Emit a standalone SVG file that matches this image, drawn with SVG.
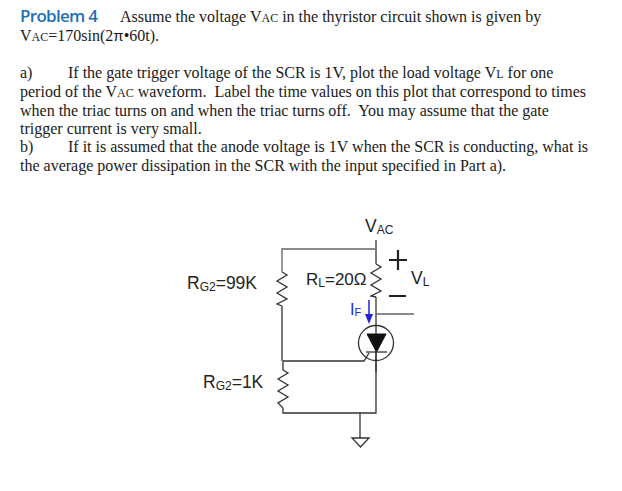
<svg xmlns="http://www.w3.org/2000/svg" width="622" height="491" viewBox="0 0 622 491">
<style>
.t{font-family:"Liberation Serif",serif;font-size:16px;fill:#1a1a1a;white-space:pre}
.s{font-size:12px}
.a{font-family:"Liberation Sans",sans-serif;font-size:17.500px;fill:#222}
.as{font-size:12px}
.w{fill:none;stroke:#333;stroke-width:1.300}
.g{fill:none;stroke:#666;stroke-width:1.300}
</style>
<rect width="622" height="491" fill="#fff"/>
<g id="text">
<text x="20" y="22" style="font-family:'Open Sans','Liberation Sans',sans-serif;font-size:17px;font-weight:600;fill:#1f6fb5;letter-spacing:-.7px">Problem 4</text>
<text class="t" x="120" y="22">Assume the voltage V<tspan class="s">AC</tspan> in the thyristor circuit shown is given by</text>
<text class="t" x="20" y="41">V<tspan class="s">AC</tspan>=170sin(2<tspan font-family="Liberation Sans" font-size="15">π</tspan>•60t).</text>
<text class="t" x="20" y="78">a)</text>
<text class="t" x="68" y="78">If the gate trigger voltage of the SCR is 1V, plot the load voltage V<tspan class="s">L</tspan> for one</text>
<text class="t" x="20" y="97">period of the V<tspan class="s">AC</tspan> waveform.  Label the time values on this plot that correspond to times</text>
<text class="t" x="20" y="116">when the triac turns on and when the triac turns off.  You may assume that the gate</text>
<text class="t" x="20" y="134">trigger current is very small.</text>
<text class="t" x="20" y="152">b)</text>
<text class="t" x="68" y="152">If it is assumed that the anode voltage is 1V when the SCR is conducting, what is</text>
<text class="t" x="20" y="171">the average power dissipation in the SCR with the input specified in Part a).</text>
</g>
<g id="connectors">
<path class="g" d="M375 249H282V272"/>
<path class="w" d="M376 240V264"/>
<path class="w" d="M282 306V361"/>
<path class="w" d="M376 297V372"/>
<path class="g" d="M376 314H414"/>
<path class="w" d="M283 361H364L369 353"/>
<path class="w" d="M283 361V370"/>
<path class="w" d="M376 352V413H283V408"/>
<path class="w" d="M360 413V438"/>
</g>
<g id="R1"><path class="w" d="M282 272L287 275L277 281L287 287L277 293L287 299L277 304L282 306"/></g>
<g id="R2"><path class="w" d="M376 264L381 267L371 273L381 279L371 285L381 291L371 296L376 297"/></g>
<g id="R3"><path class="w" d="M283 370L288 373L278 379L288 385L278 391L288 397L278 403L283 408"/></g>
<g id="scr">
<circle class="w" cx="376" cy="343" r="17.500"/>
<path d="M367 334H386L376.500 352Z" fill="#111" stroke="#111"/>
<path class="w" d="M366 352H387"/>
</g>
<g id="ground"><path class="w" d="M352 438H369L360.500 447Z"/></g>
<g id="arrow">
<path d="M369 300V316" stroke="#2222dd" stroke-width="1.500" fill="none"/>
<path d="M365 314H373L369 324Z" fill="#2222dd"/>
</g>
<g id="labels">
<text class="a" x="365" y="232">V<tspan class="as" dy="2">AC</tspan></text>
<text class="a" x="187" y="289">R<tspan class="as" dy="2">G2</tspan><tspan dy="-2">=99K</tspan></text>
<text class="a" x="306" y="285" font-size="17" style="font-size:17px">R<tspan class="as" dy="2">L</tspan><tspan dy="-2">=20Ω</tspan></text>
<text class="a" x="411" y="284">V<tspan class="as" dy="2">L</tspan></text>
<text x="350" y="315" style="font-family:'Liberation Sans',sans-serif;font-size:16px;fill:#2222dd">I<tspan font-size="11" dy="1">F</tspan></text>
<text class="a" x="203" y="388">R<tspan class="as" dy="2">G2</tspan><tspan dy="-2">=1K</tspan></text>
<path d="M389 260H407M398 250V270M389 296H406" stroke="#222" stroke-width="2.200" fill="none"/>
</g>
</svg>
